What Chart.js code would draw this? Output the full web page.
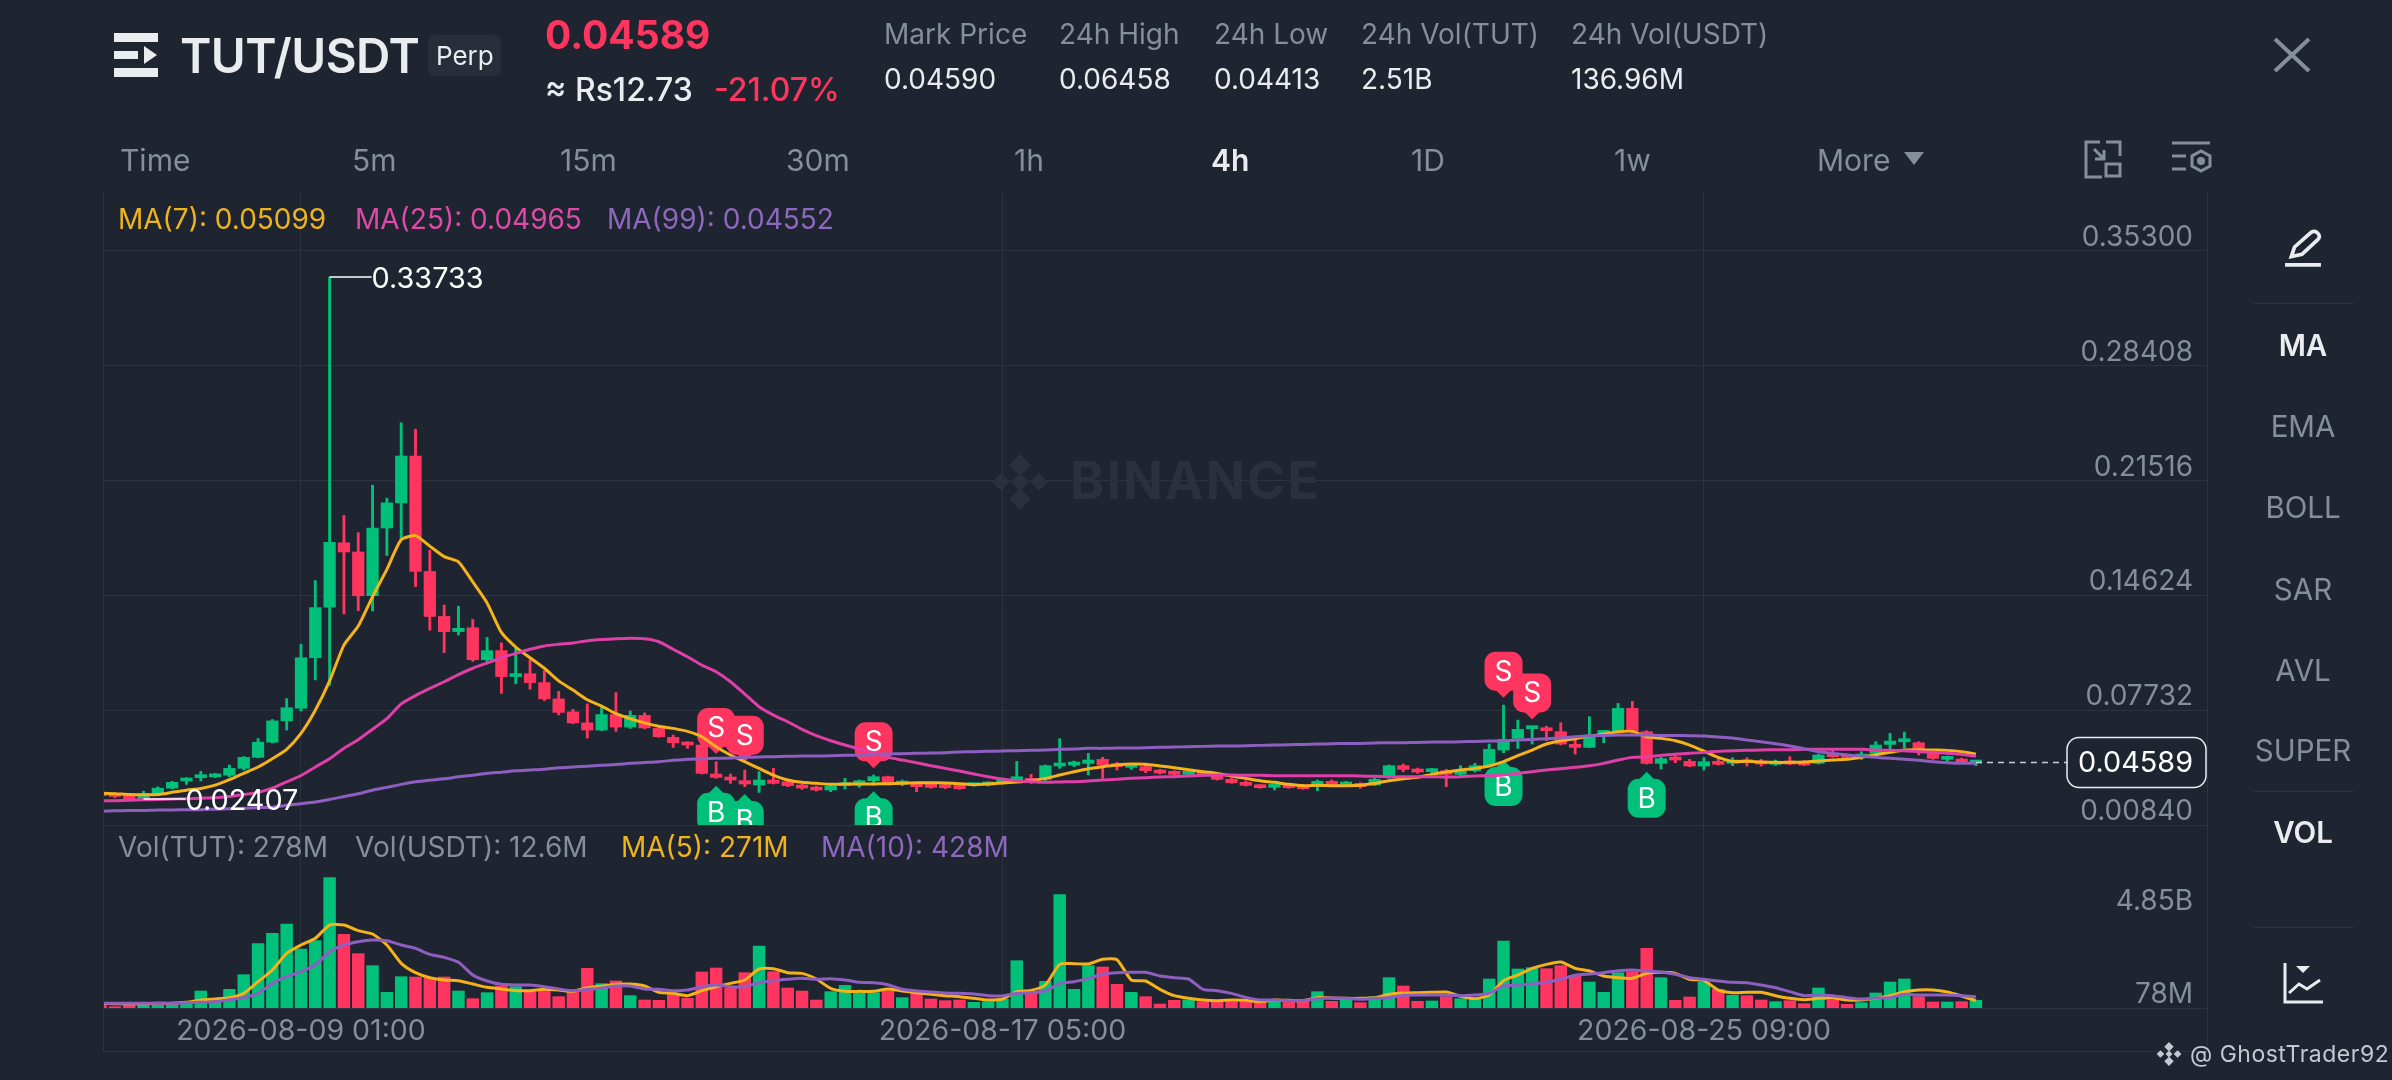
<!DOCTYPE html>
<html>
<head>
<meta charset="utf-8">
<title>TUT/USDT Perp</title>
<script src="https://cdn.jsdelivr.net/npm/chart.js@4/dist/chart.umd.min.js"></script>
<style>
html, body { margin: 0; padding: 0; background: #1e2530; overflow: hidden; }
body { width: 2392px; height: 1080px; position: relative; font-family: Inter, Roboto, sans-serif; }
canvas { position: absolute; left: 0; top: 0; }
.t { position: absolute; white-space: nowrap; transform: translateY(-50%); line-height: 1; }
.c { transform: translate(-50%, -50%); }
.grey { color: #848e9c; }
.white { color: #eaecef; }
.red { color: #ff3560; }
.head { font-size: 28px; }
.tab { font-size: 30px; color: #848e9c; }
.side { font-size: 29.5px; color: #848e9c; }
.leg { font-size: 28px; }
.yellow { color: #eeb41f; }
.pink { color: #dd4aa8; }
.purple { color: #8e68bd; }
svg { position: absolute; }
</style>
</head>
<body>
<canvas id="kline" width="2392" height="1080"></canvas>

<svg style="left:113px;top:32px" width="46" height="46" viewBox="0 0 46 46" fill="#eaecef">
  <rect x="1" y="1" width="44" height="9"/><rect x="1" y="36" width="44" height="9"/>
  <rect x="1" y="19" width="24" height="8"/><path d="M31 14l13 9-13 9z"/>
</svg>
<div class="t white" style="left:180px;top:56px;font-size:47.5px;font-weight:600;letter-spacing:-0.5px">TUT/USDT</div>
<div style="position:absolute;left:428px;top:35px;width:73px;height:41px;background:#272e3a;border-radius:6px"></div>
<div class="t white" style="left:436px;top:56px;font-size:26px">Perp</div>
<div class="t red" style="left:545px;top:34px;font-size:39px;font-weight:700">0.04589</div>
<div class="t white" style="left:545px;top:90px;font-size:32px;font-weight:500">≈ Rs12.73</div>
<div class="t red" style="left:714px;top:90px;font-size:32px;font-weight:500">-21.07%</div>

<div class="t grey head" style="left:884px;top:34px">Mark Price</div>
<div class="t white head" style="left:884px;top:79px">0.04590</div>
<div class="t grey head" style="left:1059px;top:34px">24h High</div>
<div class="t white head" style="left:1059px;top:79px">0.06458</div>
<div class="t grey head" style="left:1214px;top:34px">24h Low</div>
<div class="t white head" style="left:1214px;top:79px">0.04413</div>
<div class="t grey head" style="left:1361px;top:34px">24h Vol(TUT)</div>
<div class="t white head" style="left:1361px;top:79px">2.51B</div>
<div class="t grey head" style="left:1571px;top:34px">24h Vol(USDT)</div>
<div class="t white head" style="left:1571px;top:79px">136.96M</div>

<svg style="left:2272px;top:36px" width="40" height="38" viewBox="0 0 40 38" stroke="#848e9c" stroke-width="4" fill="none">
  <path d="M3 3l34 32M37 3L3 35"/>
</svg>

<div class="t tab" style="left:120px;top:160px">Time</div>
<div class="t tab" style="left:352px;top:160px">5m</div>
<div class="t tab" style="left:560px;top:160px">15m</div>
<div class="t tab" style="left:786px;top:160px">30m</div>
<div class="t tab" style="left:1014px;top:160px">1h</div>
<div class="t tab" style="left:1211px;top:160px;color:#eaecef;font-weight:600">4h</div>
<div class="t tab" style="left:1411px;top:160px">1D</div>
<div class="t tab" style="left:1614px;top:160px">1w</div>
<div class="t tab" style="left:1817px;top:160px">More</div>
<svg style="left:1904px;top:152px" width="20" height="14" viewBox="0 0 20 14" fill="#848e9c"><path d="M0 0h20L10 13z"/></svg>

<svg style="left:2084px;top:140px" width="38" height="39" viewBox="0 0 38 39" stroke="#848e9c" stroke-width="3" fill="none">
  <path d="M16 2H2v35h16M22 2h14v14"/><rect x="22" y="24" width="14" height="12"/><path d="M10 9l10 10M20 10v9h-9"/>
</svg>
<svg style="left:2172px;top:140px" width="40" height="36" viewBox="0 0 40 36" stroke="#848e9c" stroke-width="3" fill="none">
  <path d="M0 3h38M0 16h14M0 29h14M29 11l9 5v10l-9 5-9-5V16z"/><circle cx="29" cy="21" r="2.5" fill="#848e9c"/>
</svg>

<div class="t leg yellow" style="left:118px;top:219px">MA(7): 0.05099</div>
<div class="t leg pink" style="left:355px;top:219px">MA(25): 0.04965</div>
<div class="t leg purple" style="left:607px;top:219px">MA(99): 0.04552</div>
<div class="t leg grey" style="left:118px;top:847px">Vol(TUT): 278M</div>
<div class="t leg grey" style="left:355px;top:847px">Vol(USDT): 12.6M</div>
<div class="t leg yellow" style="left:621px;top:847px">MA(5): 271M</div>
<div class="t leg purple" style="left:821px;top:847px">MA(10): 428M</div>

<svg style="left:990px;top:452px" width="60" height="60" viewBox="0 0 60 60" fill="#2a313c">
  <path d="M30 2l11 11-11 11-11-11zM11 21l9 9-9 9-9-9zM49 21l9 9-9 9-9-9zM30 21l9 9-9 9-9-9zM30 36l11 11-11 11-11-11z"/>
</svg>
<div class="t" style="left:1070px;top:481px;font-size:52px;font-weight:700;color:#2a313c;letter-spacing:2px">BINANCE</div>

<svg style="left:2282px;top:229px" width="42" height="38" viewBox="0 0 38 36" stroke="#eaecef" stroke-width="3.5" fill="none">
  <path d="M8 26l3-9L27 3c2-1 4-1 6 1s2 4 0 6L18 24zM2 34h34"/>
</svg>
<div style="position:absolute;left:2253px;top:303px;width:101px;height:1px;background:#2b3340"></div>
<div class="t side c" style="left:2303px;top:346px;color:#eaecef;font-weight:600">MA</div>
<div class="t side c" style="left:2303px;top:427px">EMA</div>
<div class="t side c" style="left:2303px;top:508px">BOLL</div>
<div class="t side c" style="left:2303px;top:590px">SAR</div>
<div class="t side c" style="left:2303px;top:671px">AVL</div>
<div class="t side c" style="left:2303px;top:751px">SUPER</div>
<div style="position:absolute;left:2253px;top:791px;width:101px;height:1px;background:#2b3340"></div>
<div class="t side c" style="left:2303px;top:833px;color:#eaecef;font-weight:600">VOL</div>
<div style="position:absolute;left:2253px;top:927px;width:101px;height:1px;background:#2b3340"></div>
<svg style="left:2282px;top:961px" width="42" height="44" viewBox="0 0 42 44" stroke="#eaecef" stroke-width="3" fill="none">
  <path d="M3 2v39h38M7 32l10-9 8 5 13-9"/><path d="M14 5h14l-7 7z" fill="#eaecef" stroke="none"/>
</svg>

<svg style="left:2156px;top:1042px" width="26" height="24" viewBox="0 0 60 56" fill="#c4c9d1">
  <path d="M30 0l11 11-11 11-11-11zM10 19l9 9-9 9-9-9zM50 19l9 9-9 9-9-9zM30 20l8 8-8 8-8-8zM30 34l11 11-11 11-11-11z"/>
</svg>
<div class="t" style="left:2190px;top:1054px;font-size:23px;color:#c4c9d1;letter-spacing:0.5px">@ GhostTrader92</div>

<script>
// bar 0 sits on the first time label, bars before it are the ones left of it
const firstBar = -14
const tickBars = [0, 49, 98]
const tickLabels = ['2026-08-09 01:00', '2026-08-17 05:00', '2026-08-25 09:00']
const priceTicks = [0.353, 0.28408, 0.21516, 0.14624, 0.07732, 0.0084]
const volTicks = [4850, 78]
const lastPrice = 0.04589

const open = [
  .0277,.0267,.0260,.0242,.0272,.0305,.0348,.0368,.0373,.0383,
  .0424,.0490,.0581,.0709,.0785,.1088,.1392,.1778,.1723,.1460,
  .1867,.2018,.2299,.1606,.1336,.1245,.1268,.1076,.1131,.0975,
  .0992,.0939,.0841,.0763,.0697,.0654,.0747,.0672,.0742,.0664,
  .0610,.0578,.0564,.0390,.0370,.0350,.0324,.0354,.0344,.0320,
  .0308,.0294,.0320,.0324,.0350,.0374,.0330,.0334,.0330,.0324,
  .0324,.0320,.0324,.0334,.0354,.0364,.0358,.0438,.0444,.0454,
  .0478,.0450,.0430,.0434,.0410,.0402,.0388,.0398,.0382,.0358,
  .0338,.0320,.0310,.0324,.0320,.0314,.0346,.0320,.0334,.0324,
  .0370,.0440,.0420,.0404,.0410,.0388,.0410,.0440,.0534,.0604,
  .0662,.0664,.0644,.0564,.0550,.0634,.0648,.0784,.0644,.0454,
  .0486,.0466,.0438,.0460,.0454,.0468,.0466,.0448,.0464,.0464,
  .0454,.0510,.0504,.0490,.0514,.0568,.0584,.0578,.0514,.0478,
  .0480,.0456]
const close = [
  .0260,.0255,.0237,.0272,.0305,.0340,.0361,.0381,.0386,.0424,
  .0490,.0581,.0709,.0788,.1088,.1389,.1781,.1723,.1460,.1867,
  .2018,.2299,.1606,.1336,.1245,.1265,.1076,.1131,.0975,.0992,
  .0939,.0841,.0760,.0697,.0654,.0747,.0672,.0742,.0667,.0614,
  .0578,.0564,.0394,.0370,.0354,.0330,.0354,.0334,.0320,.0306,
  .0294,.0318,.0330,.0350,.0374,.0334,.0338,.0314,.0310,.0308,
  .0302,.0330,.0340,.0354,.0374,.0338,.0440,.0454,.0460,.0474,
  .0444,.0434,.0444,.0410,.0396,.0388,.0402,.0382,.0358,.0338,
  .0322,.0308,.0322,.0308,.0302,.0346,.0326,.0342,.0314,.0358,
  .0440,.0418,.0402,.0420,.0388,.0410,.0440,.0538,.0598,.0658,
  .0674,.0650,.0570,.0550,.0624,.0648,.0784,.0644,.0454,.0482,
  .0474,.0438,.0464,.0448,.0474,.0458,.0450,.0466,.0450,.0444,
  .0504,.0494,.0490,.0510,.0564,.0588,.0594,.0530,.0484,.0494,
  .0458,.04589]
const high = [
  .0280,.0277,.0265,.0287,.0313,.0346,.0368,.0406,.0394,.0444,
  .0495,.0603,.0717,.0843,.1169,.1551,.33733,.1942,.1839,.2124,
  .2046,.2498,.2460,.1733,.1404,.1397,.1318,.1210,.1177,.1147,
  .1076,.1010,.0886,.0778,.0811,.0793,.0879,.0768,.0757,.0670,
  .0624,.0584,.0594,.0464,.0390,.0414,.0404,.0424,.0354,.0330,
  .0318,.0320,.0364,.0354,.0384,.0378,.0354,.0340,.0338,.0334,
  .0328,.0334,.0344,.0362,.0466,.0388,.0444,.0602,.0468,.0514,
  .0490,.0460,.0454,.0444,.0418,.0410,.0406,.0404,.0394,.0364,
  .0350,.0326,.0326,.0334,.0328,.0354,.0354,.0346,.0338,.0364,
  .0444,.0450,.0426,.0424,.0418,.0440,.0454,.0570,.0804,.0714,
  .0678,.0678,.0698,.0598,.0734,.0650,.0814,.0826,.0650,.0490,
  .0500,.0478,.0488,.0484,.0488,.0488,.0478,.0474,.0494,.0470,
  .0510,.0544,.0510,.0524,.0584,.0634,.0642,.0584,.0530,.0498,
  .0486,.0468]
const low = [
  .0255,.0247,.0245,.02407,.0262,.0300,.0328,.0348,.0368,.0373,
  .0414,.0487,.0576,.0654,.0768,.0955,.0924,.1351,.1371,.1369,
  .1702,.1796,.1515,.1253,.1119,.1225,.1066,.1063,.0874,.0932,
  .0899,.0831,.0745,.0692,.0606,.0651,.0646,.0664,.0661,.0610,
  .0550,.0544,.0390,.0364,.0334,.0314,.0280,.0330,.0314,.0298,
  .0288,.0284,.0300,.0310,.0324,.0324,.0320,.0284,.0304,.0302,
  .0298,.0318,.0318,.0330,.0344,.0334,.0350,.0424,.0434,.0384,
  .0364,.0414,.0418,.0398,.0390,.0380,.0384,.0378,.0354,.0334,
  .0318,.0304,.0294,.0304,.0298,.0290,.0318,.0314,.0304,.0320,
  .0364,.0404,.0394,.0390,.0314,.0378,.0402,.0434,.0518,.0544,
  .0570,.0590,.0564,.0510,.0548,.0578,.0644,.0640,.0450,.0420,
  .0458,.0434,.0414,.0444,.0440,.0438,.0438,.0442,.0446,.0440,
  .0450,.0490,.0484,.0478,.0508,.0538,.0546,.0504,.0478,.0464,
  .0454,.0440]
const ma7 = [
  .0275,.0272,.0267,.0265,.0267,.0280,.0293,.0303,.0323,.0356,
  .0394,.0432,.0482,.0538,.0634,.0773,.0949,.1164,.1278,.1455,
  .1619,.1796,.1821,.1758,.1695,.1664,.1543,.1417,.1240,.1152,
  .1088,.1025,.0949,.0894,.0836,.0798,.0752,.0722,.0697,.0677,
  .0664,.0646,.0614,.0554,.0504,.0464,.0424,.0384,.0354,.0340,
  .0334,.0328,.0330,.0330,.0330,.0332,.0334,.0338,.0338,.0336,
  .0332,.0326,.0330,.0336,.0342,.0350,.0364,.0384,.0404,.0422,
  .0434,.0444,.0450,.0448,.0438,.0428,.0416,.0404,.0394,.0378,
  .0364,.0350,.0340,.0328,.0320,.0322,.0320,.0320,.0322,.0334,
  .0350,.0362,.0370,.0388,.0402,.0414,.0424,.0438,.0464,.0500,
  .0534,.0570,.0590,.0602,.0618,.0630,.0644,.0646,.0614,.0604,
  .0590,.0564,.0528,.0490,.0466,.0466,.0462,.0460,.0460,.0462,
  .0468,.0474,.0478,.0490,.0506,.0520,.0534,.0536,.0534,.0532,
  .0524,.05099]
const ma25 = [
  .0230,.0230,.0232,.0235,.0237,.0240,.0242,.0245,.0247,.0255,
  .0267,.0280,.0305,.0343,.0381,.0432,.0482,.0545,.0596,.0659,
  .0722,.0811,.0861,.0904,.0944,.0987,.1025,.1056,.1088,.1114,
  .1139,.1159,.1169,.1177,.1190,.1197,.1202,.1205,.1202,.1184,
  .1139,.1094,.1044,.1004,.0944,.0870,.0794,.0744,.0704,.0658,
  .0620,.0590,.0564,.0540,.0518,.0490,.0474,.0458,.0440,.0424,
  .0408,.0390,.0374,.0360,.0350,.0344,.0340,.0342,.0344,.0348,
  .0354,.0358,.0364,.0368,.0372,.0374,.0378,.0382,.0384,.0384,
  .0382,.0382,.0380,.0380,.0380,.0380,.0380,.0380,.0378,.0376,
  .0374,.0374,.0374,.0374,.0372,.0374,.0378,.0380,.0384,.0394,
  .0404,.0414,.0422,.0430,.0440,.0454,.0474,.0490,.0494,.0502,
  .0508,.0514,.0520,.0526,.0530,.0532,.0534,.0536,.0536,.0538,
  .0538,.0538,.0538,.0538,.0534,.0532,.0530,.0524,.0520,.0514,
  .0508,.04965]
const ma99 = [
  .0166,.0169,.0171,.0171,.0174,.0174,.0176,.0176,.0179,.0181,
  .0184,.0189,.0191,.0202,.0212,.0222,.0237,.0255,.0272,.0293,
  .0310,.0328,.0343,.0353,.0361,.0373,.0383,.0394,.0401,.0409,
  .0414,.0419,.0427,.0432,.0437,.0442,.0447,.0454,.0459,.0464,
  .0472,.0479,.0482,.0484,.0486,.0490,.0492,.0494,.0496,.0498,
  .0498,.0500,.0502,.0504,.0506,.0510,.0512,.0514,.0516,.0518,
  .0522,.0524,.0526,.0528,.0530,.0532,.0534,.0538,.0540,.0544,
  .0544,.0546,.0546,.0548,.0550,.0552,.0554,.0556,.0558,.0558,
  .0560,.0562,.0564,.0566,.0568,.0570,.0572,.0574,.0574,.0576,
  .0578,.0578,.0580,.0582,.0582,.0584,.0586,.0588,.0590,.0594,
  .0598,.0602,.0606,.0614,.0620,.0622,.0624,.0624,.0624,.0622,
  .0622,.0620,.0618,.0612,.0606,.0594,.0584,.0572,.0558,.0542,
  .0524,.0514,.0504,.0498,.0490,.0484,.0478,.0472,.0464,.0458,
  .0454,.04552]
// volume numbers are in millions
const volume = [
  318,146,215,215,215,232,283,950,400,1036,
  1788,3378,3908,4387,3105,3532,6764,3857,2865,2250,
  882,1685,1668,1600,1668,950,557,865,1207,1172,
  916,1001,660,916,2113,1326,1463,711,488,471,
  830,574,1925,2130,1087,1890,3259,1942,1104,950,
  488,916,1241,865,865,967,608,830,540,454,
  488,369,403,540,2506,830,1446,5892,1036,2250,
  2181,1292,882,659,283,471,488,403,403,403,
  403,403,523,403,437,916,420,488,352,659,
  1634,1207,420,437,659,557,574,1566,3515,2079,
  2147,2096,2250,1737,1412,882,1890,1942,3139,1634,
  471,642,1395,1036,728,711,488,403,454,300,
  1104,488,266,352,848,1412,1566,659,386,386,
  403,471]
const volMa5 = [
  317,300,300,300,317,317,369,488,540,608,
  830,1429,2027,2882,3310,3652,4336,4336,4045,3874,
  3310,2369,1891,1634,1514,1480,1309,1138,1053,967,
  967,1036,1001,933,1121,1190,1292,1309,1207,882,
  830,711,967,1172,1343,1514,2079,2096,1891,1856,
  1566,1087,933,933,933,1053,950,865,779,711,
  659,574,488,540,916,984,1258,2318,2352,2335,
  2575,2558,1514,1463,1036,711,574,488,454,488,
  471,403,488,471,454,608,591,574,574,608,
  779,848,865,882,899,677,557,745,1480,1771,
  2113,2318,2438,2113,1976,1720,1634,1600,1856,1908,
  1856,1549,1480,1001,865,882,882,711,574,505,
  574,591,488,488,574,711,916,1001,1001,899,
  694,454]
const volMa10 = [
  317,317,317,317,317,317,352,369,403,505,
  608,830,1343,1685,1942,2284,2968,3310,3481,3566,
  3532,3310,3139,2831,2677,2421,1771,1463,1292,1258,
  1258,1172,1053,967,1036,1104,1207,1207,1053,1036,
  967,1001,1172,1258,1172,1172,1378,1480,1549,1600,
  1549,1583,1514,1395,1378,1275,1036,950,899,848,
  830,796,711,694,830,865,950,1343,1429,1600,
  1805,1891,1908,1908,1720,1634,1566,1036,967,830,
  625,488,488,454,454,557,591,574,523,574,
  608,728,745,745,745,711,745,830,1207,1258,
  1309,1395,1549,1754,1822,1891,1993,2027,1976,1925,
  1805,1634,1549,1463,1395,1378,1258,1121,916,711,
  745,711,608,540,591,608,779,745,745,745,
  711,659]

// S / B flags: bar and the price their tip points at
const sellBars = [29, 31, 40, 84, 86]
const sellTips = [.0510, .0464, .0424, .0848, .0718]
const buyBars = [29, 31, 40, 84, 94]
const buyTips = [.0320, .0270, .0286, .0474, .0404]

const upColor = '#00c07a'
const downColor = '#ff3560'
const gridColor = '#2b3340'

const bars = open.map((o, i) => firstBar + i)
const candleColors = open.map((o, i) => close[i] >= o ? upColor : downColor)
const xy = values => values.map((v, i) => ({x: bars[i], y: v}))

function lineSet(values, color, axis) {
    return {type: 'line', data: xy(values), borderColor: color, borderWidth: 3, pointRadius: 0,
        tension: 0.2, yAxisID: axis, order: 1}
}

function flag(ctx, x, tip, letter, color, up) {
    const w = 38, h = 39, r = 11, t = 7
    const top = up ? tip + t : tip - t - h
    ctx.fillStyle = color
    ctx.beginPath()
    ctx.roundRect(x - w / 2, top, w, h, r)
    ctx.fill()
    ctx.beginPath()
    ctx.moveTo(x - 8, up ? top + 1 : top + h - 1)
    ctx.lineTo(x, tip)
    ctx.lineTo(x + 8, up ? top + 1 : top + h - 1)
    ctx.fill()
    ctx.fillStyle = '#ffffff'
    ctx.font = '28px Inter'
    ctx.textAlign = 'center'
    ctx.textBaseline = 'middle'
    ctx.fillText(letter, x, top + h / 2 + 1)
}

const decorations = {
    id: 'decorations',
    beforeDatasetsDraw(chart) {
        const {ctx, scales} = chart
        ctx.save()
        ctx.beginPath()
        ctx.rect(chart.chartArea.left, scales.y.top, chart.chartArea.width, scales.y.height)
        ctx.clip()
        sellBars.forEach((b, i) => flag(ctx, scales.x.getPixelForValue(b), scales.y.getPixelForValue(sellTips[i]), 'S', downColor, false))
        buyBars.forEach((b, i) => flag(ctx, scales.x.getPixelForValue(b), scales.y.getPixelForValue(buyTips[i]), 'B', upColor, true))
        ctx.restore()
    },
    afterDatasetsDraw(chart) {
        const {ctx, scales} = chart
        const area = chart.chartArea
        ctx.save()
        // frame of the panes, it runs below the volume base
        ctx.strokeStyle = gridColor
        ctx.lineWidth = 1
        ctx.beginPath()
        ctx.moveTo(area.left + 0.5, area.top)
        ctx.lineTo(area.left + 0.5, 1051.5)
        ctx.lineTo(area.right + 0.5, 1051.5)
        ctx.lineTo(area.right + 0.5, area.top)
        ctx.stroke()

        // highest and lowest price notes
        ctx.font = '28.8px Inter'
        ctx.textBaseline = 'middle'
        ctx.textAlign = 'left'
        ctx.fillStyle = '#ffffff'
        ctx.strokeStyle = '#ffffff'
        ctx.lineWidth = 1.5
        const hiX = scales.x.getPixelForValue(bars[high.indexOf(Math.max(...high))])
        const hiY = scales.y.getPixelForValue(Math.max(...high))
        ctx.beginPath()
        ctx.moveTo(hiX, hiY)
        ctx.lineTo(hiX + 42, hiY)
        ctx.stroke()
        ctx.fillText('0.33733', hiX + 42, hiY + 2)
        const loX = scales.x.getPixelForValue(bars[low.indexOf(Math.min(...low))])
        const loY = scales.y.getPixelForValue(Math.min(...low))
        ctx.beginPath()
        ctx.moveTo(loX, loY)
        ctx.lineTo(loX + 42, loY)
        ctx.stroke()
        ctx.fillText('0.02407', loX + 42, loY + 2)

        // last price box on the right
        const py = scales.y.getPixelForValue(lastPrice)
        ctx.fillStyle = '#1e2530'
        ctx.strokeStyle = '#eaecef'
        ctx.lineWidth = 1.5
        ctx.beginPath()
        ctx.roundRect(2067, py - 25, 139, 50, 12)
        ctx.fill()
        ctx.stroke()
        ctx.fillStyle = '#ffffff'
        ctx.textAlign = 'right'
        ctx.fillText(String(lastPrice), 2193, py + 1)
        ctx.restore()
    }
}

new Chart(document.getElementById('kline'), {
    data: {
        datasets: [
            {type: 'bar', data: bars.map((b, i) => ({x: b, y: [low[i], high[i]]})), backgroundColor: candleColors,
                barThickness: 2.2, grouped: false, yAxisID: 'y', order: 4},
            {type: 'bar', data: bars.map((b, i) => ({x: b, y: [open[i], close[i]]})), backgroundColor: candleColors,
                barThickness: 11.6, minBarLength: 3, grouped: false, yAxisID: 'y', order: 3},
            lineSet(ma99, '#8e5fc0', 'y'),
            lineSet(ma25, '#e03fa8', 'y'),
            lineSet(ma7, '#f5b21a', 'y'),
            {type: 'line', data: [{x: bars[bars.length - 1], y: lastPrice}, {x: 123.6, y: lastPrice}], borderColor: '#c9ced6',
                borderWidth: 1.5, borderDash: [6, 5], pointRadius: 0, yAxisID: 'y', order: 2},
            {type: 'bar', data: xy(volume), backgroundColor: candleColors, barThickness: 11.8, grouped: false,
                yAxisID: 'vol', order: 3},
            lineSet(volMa10, '#8e5fc0', 'vol'),
            lineSet(volMa5, '#f5b21a', 'vol')
        ]
    },
    options: {
        responsive: false,
        animation: false,
        events: [],
        layout: {padding: {left: 103, right: 185, top: 193, bottom: 29}},
        plugins: {legend: {display: false}, tooltip: {enabled: false}},
        scales: {
            x: {
                type: 'linear',
                min: -13.83,
                max: 133.14,
                offset: false,
                afterBuildTicks: s => { s.ticks = tickBars.map(v => ({value: v})) },
                afterFit: s => { s.height = 43 },
                ticks: {
                    color: '#848e9c', font: {family: 'Inter', size: 28.5}, padding: 6, maxRotation: 0, autoSkip: false,
                    callback: v => tickLabels[tickBars.indexOf(v)]
                },
                grid: {color: gridColor, drawTicks: false, offset: false},
                border: {display: false}
            },
            y: {
                type: 'linear',
                position: 'right',
                stack: 'panes',
                stackWeight: 632,
                min: 0.0084,
                max: 0.3878,
                afterBuildTicks: s => { s.ticks = priceTicks.map(v => ({value: v})) },
                afterFit: s => { s.width = 0 },
                ticks: {
                    mirror: true, color: '#848e9c', font: {family: 'Inter', size: 28}, padding: -14, labelOffset: -13.5,
                    callback: v => v.toFixed(5)
                },
                grid: {color: gridColor, drawTicks: false},
                border: {display: false}
            },
            vol: {
                type: 'linear',
                position: 'right',
                stack: 'panes',
                stackWeight: 183,
                min: 78,
                max: 9468,
                afterBuildTicks: s => { s.ticks = volTicks.map(v => ({value: v})) },
                afterFit: s => { s.width = 0 },
                ticks: {
                    mirror: true, color: '#848e9c', font: {family: 'Inter', size: 28}, padding: -14, labelOffset: -13.5,
                    callback: v => v >= 1000 ? (v / 1000).toFixed(2) + 'B' : v + 'M'
                },
                grid: {color: c => c.tick && c.tick.value === 78 ? gridColor : 'transparent', drawTicks: false},
                border: {display: false}
            }
        }
    },
    plugins: [decorations]
})
</script>
</body>
</html>
